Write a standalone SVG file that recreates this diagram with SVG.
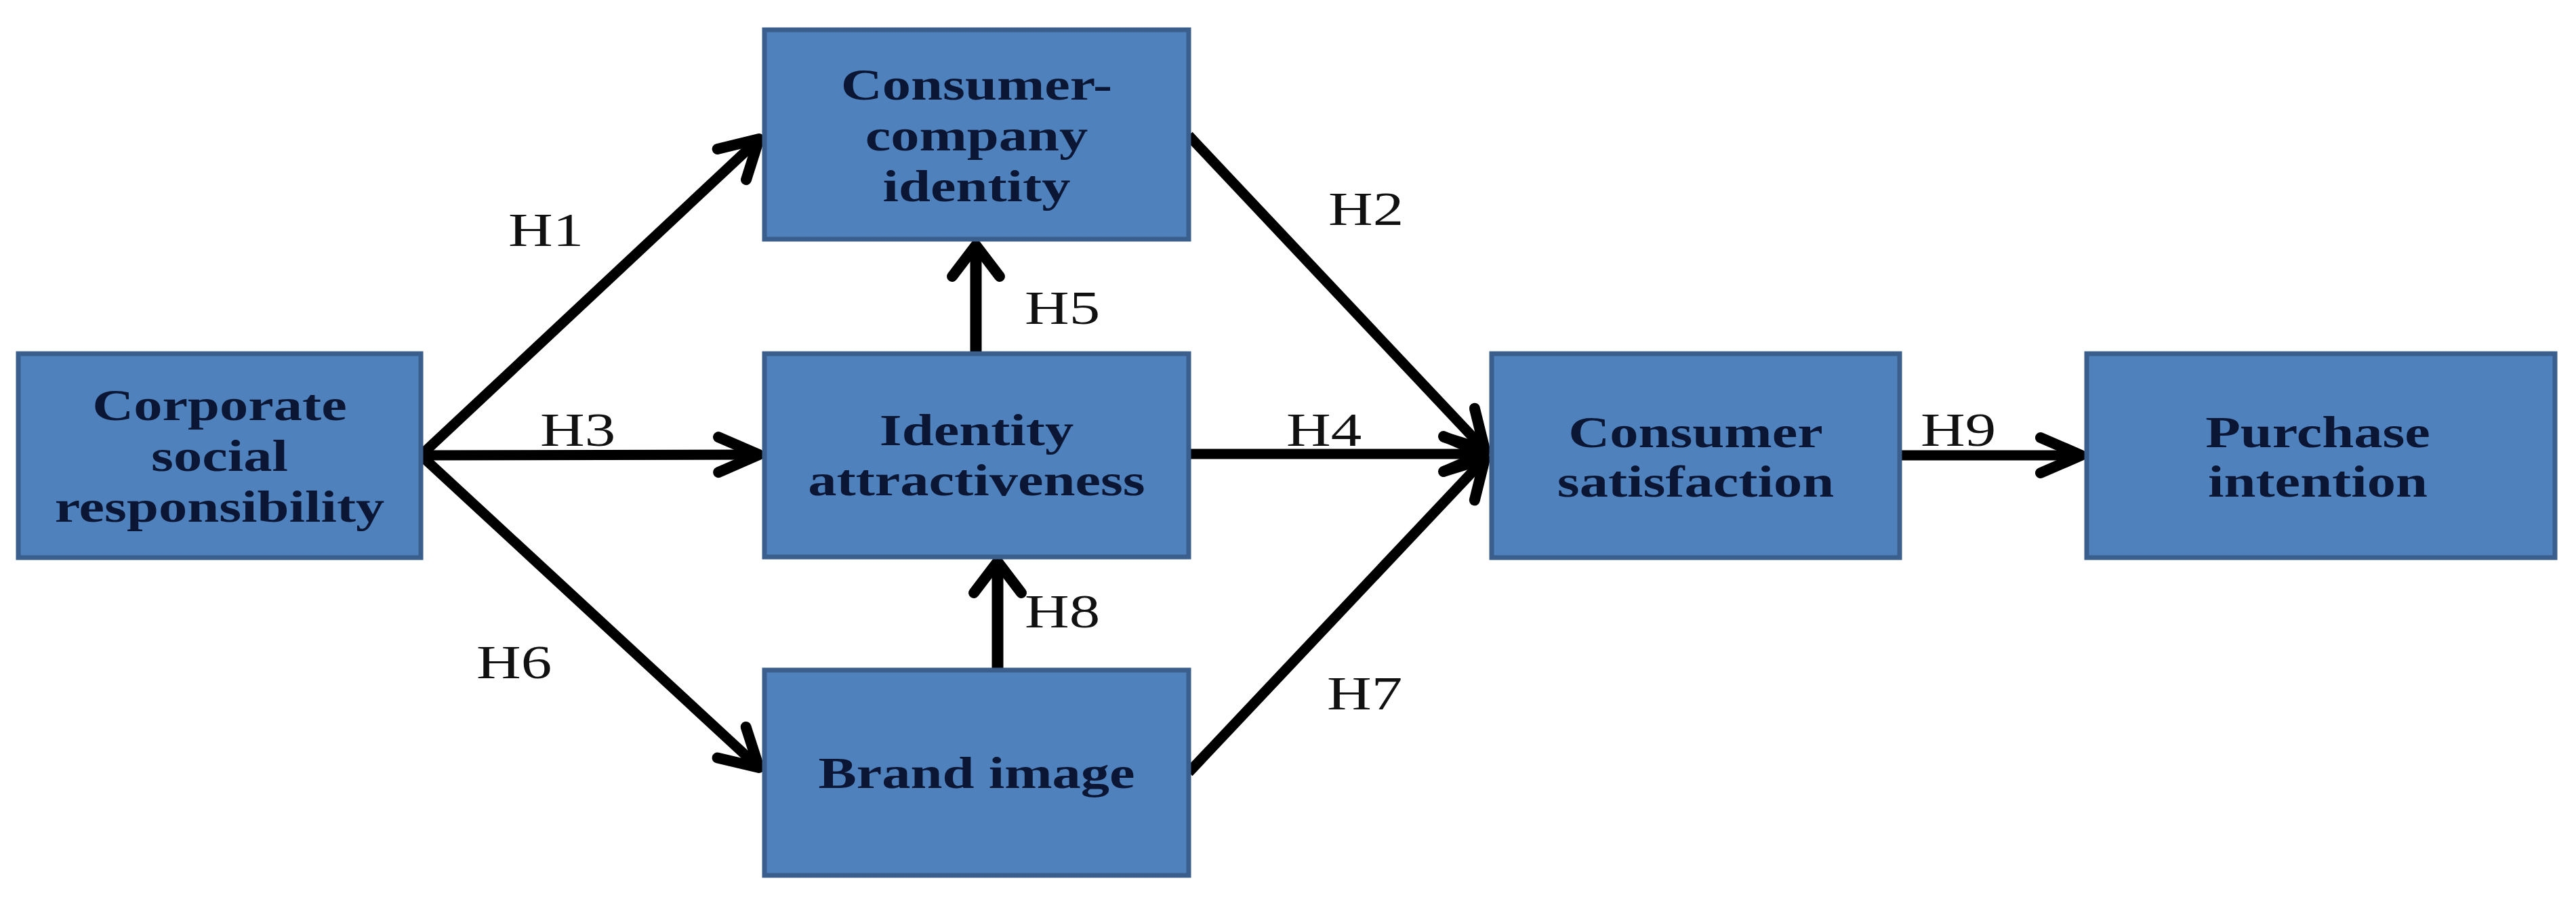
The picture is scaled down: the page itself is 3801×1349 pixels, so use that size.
<svg xmlns="http://www.w3.org/2000/svg" width="3801" height="1349" viewBox="0 0 3801 1349">
<style>
.box{fill:#4f81bd;stroke:#3b5f8d;stroke-width:7}
.nt{font-family:"Liberation Serif","Times New Roman",serif;font-weight:bold;font-size:65px;fill:#0a1633;text-anchor:middle}
.lb{font-family:"Liberation Serif","Times New Roman",serif;font-size:70px;fill:#111;text-anchor:start}
.cn{fill:none;stroke:#000;stroke-width:15}
.cv{fill:none;stroke:#000;stroke-width:17}
.ah{fill:none;stroke:#000;stroke-width:16;stroke-linecap:round;stroke-linejoin:round}
</style>
<defs>
<marker id="ah-h" markerUnits="userSpaceOnUse" viewBox="-80 -50 100 100" refX="0" refY="0" markerWidth="100" markerHeight="100" orient="auto" overflow="visible"><path class="ah" d="M-60,-26 L0,0 L-60,26"/></marker>
<marker id="ah-v" markerUnits="userSpaceOnUse" viewBox="-80 -50 100 100" refX="0" refY="0" markerWidth="100" markerHeight="100" orient="auto" overflow="visible"><path class="ah" d="M-46,-35 L0,0 L-46,35"/></marker>
<marker id="ah-d" markerUnits="userSpaceOnUse" viewBox="-80 -50 100 100" refX="0" refY="0" markerWidth="100" markerHeight="100" orient="auto" overflow="visible"><path class="ah" d="M-55,-31 L0,0 L-55,31"/></marker>
</defs>
<rect x="0" y="0" width="3801" height="1349" fill="#ffffff"/>
<g id="connectors">
<line class="cn" x1="621" y1="672" x2="1120" y2="205" marker-end="url(#ah-d)"/>
<line class="cn" x1="621" y1="672" x2="1120" y2="671" marker-end="url(#ah-h)"/>
<line class="cn" x1="621" y1="672" x2="1120" y2="1133" marker-end="url(#ah-d)"/>
<line class="cv" x1="1440" y1="519" x2="1440" y2="362" marker-end="url(#ah-v)"/>
<line class="cv" x1="1472" y1="986" x2="1472" y2="829" marker-end="url(#ah-v)"/>
<line class="cn" x1="1754" y1="200" x2="2191" y2="664" marker-end="url(#ah-d)"/>
<line class="cn" x1="1754" y1="670" x2="2190" y2="670" marker-end="url(#ah-h)"/>
<line class="cn" x1="1754" y1="1140" x2="2191" y2="677" marker-end="url(#ah-d)"/>
<line class="cn" x1="2803" y1="672" x2="3071" y2="672" marker-end="url(#ah-h)"/>
</g>
<g id="labels">
<text class="lb" transform="matrix(1.3 0 0 1 750 363)">H1</text>
<text class="lb" transform="matrix(1.3 0 0 1 1960 332)">H2</text>
<text class="lb" transform="matrix(1.3 0 0 1 797 658)">H3</text>
<text class="lb" transform="matrix(1.3 0 0 1 1898 658)">H4</text>
<text class="lb" transform="matrix(1.3 0 0 1 1512 478)">H5</text>
<text class="lb" transform="matrix(1.3 0 0 1 703 1001)">H6</text>
<text class="lb" transform="matrix(1.3 0 0 1 1958 1047)">H7</text>
<text class="lb" transform="matrix(1.3 0 0 1 1512 926)">H8</text>
<text class="lb" transform="matrix(1.3 0 0 1 2834 658)">H9</text>
</g>
<g id="node-csr">
<rect class="box" x="27" y="522" width="594" height="301"/>
<text class="nt" transform="matrix(1.3 0 0 1 324 620)">Corporate</text>
<text class="nt" transform="matrix(1.3 0 0 1 324 695)">social</text>
<text class="nt" transform="matrix(1.3 0 0 1 324 770)">responsibility</text>
</g>
<g id="node-cci">
<rect class="box" x="1128" y="44" width="626" height="309"/>
<text class="nt" transform="matrix(1.3 0 0 1 1441 147)">Consumer-</text>
<text class="nt" transform="matrix(1.3 0 0 1 1441 222)">company</text>
<text class="nt" transform="matrix(1.3 0 0 1 1441 297)">identity</text>
</g>
<g id="node-ia">
<rect class="box" x="1128" y="522" width="626" height="300"/>
<text class="nt" transform="matrix(1.3 0 0 1 1441 657)">Identity</text>
<text class="nt" transform="matrix(1.3 0 0 1 1441 731)">attractiveness</text>
</g>
<g id="node-bi">
<rect class="box" x="1128" y="989" width="626" height="303"/>
<text class="nt" transform="matrix(1.3 0 0 1 1441 1163)">Brand image</text>
</g>
<g id="node-cs">
<rect class="box" x="2201" y="522" width="602" height="301"/>
<text class="nt" transform="matrix(1.3 0 0 1 2502 660)">Consumer</text>
<text class="nt" transform="matrix(1.3 0 0 1 2502 733)">satisfaction</text>
</g>
<g id="node-pi">
<rect class="box" x="3079" y="522" width="691" height="301"/>
<text class="nt" transform="matrix(1.3 0 0 1 3420 660)">Purchase</text>
<text class="nt" transform="matrix(1.3 0 0 1 3420 733)">intention</text>
</g>
</svg>
